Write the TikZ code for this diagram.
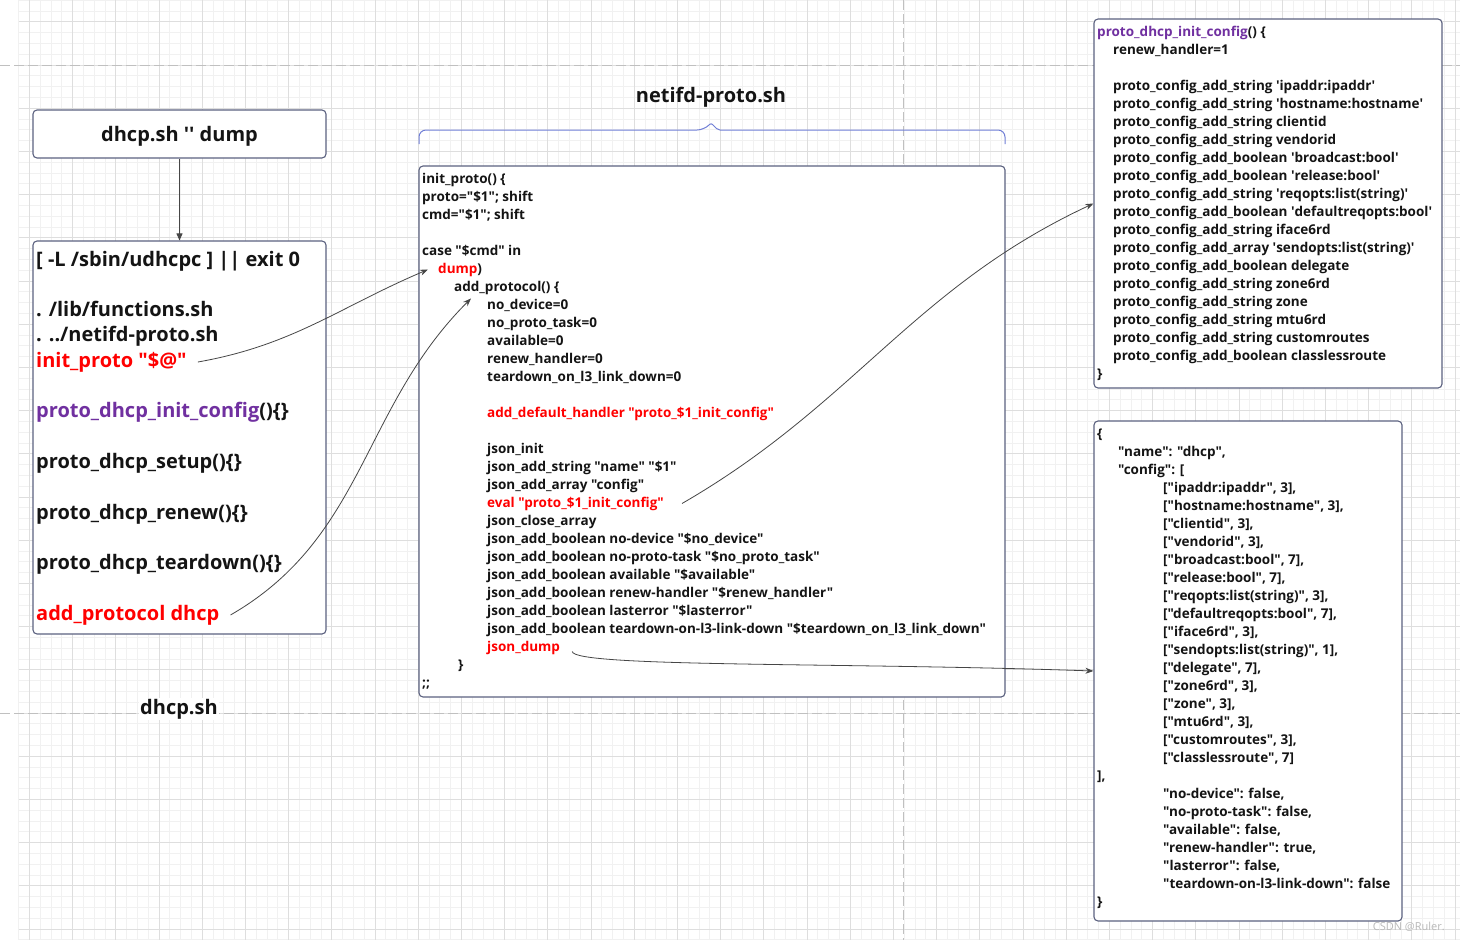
\documentclass[tikz,border=0pt]{standalone}
\usepackage{fontspec}
\setmainfont{Open Sans}[Ligatures={TeXOff,CommonOff}]
\usetikzlibrary{arrows.meta}
\definecolor{boxline}{RGB}{92,98,128}
\definecolor{bracecol}{RGB}{112,126,214}
\definecolor{linkgray}{RGB}{70,70,70}
\definecolor{ink}{RGB}{20,20,20}
\definecolor{codered}{RGB}{255,0,0}
\definecolor{codepurple}{RGB}{112,48,160}
\definecolor{gridminor}{RGB}{241,241,241}
\definecolor{gridmajor}{RGB}{222,222,222}
\definecolor{pagebreak}{RGB}{192,192,192}
\definecolor{wmgray}{RGB}{185,185,185}
\newcommand\apos{\textquotesingle}

\begin{document}
\begin{tikzpicture}[x=1pt, y=-1pt,
  box/.style={draw=boxline, line width=1.1pt, rounded corners=4pt, fill=white, inner sep=0pt},
  big/.style={font=\fontsize{20}{24}\selectfont\bfseries, text=ink, inner sep=0pt},
  code/.style={font=\fontsize{13.5}{18}\selectfont\bfseries, text=ink, inner sep=0pt, anchor=base west},
  link/.style={draw=linkgray, line width=0.8pt, -{Stealth[length=8pt,width=6pt]}},
  ]
  \useasboundingbox (0,0) rectangle (1460,940);
  % background grid and page breaks
  \fill[white] (0,0) rectangle (1460,940);
  \foreach \i in {0,...,133} \draw[gridminor, line width=0.7pt] (18.5+10.8*\i,0) -- (18.5+10.8*\i,940);
  \foreach \i in {0,...,87} \draw[gridminor, line width=0.7pt] (18.5,0.1+10.8*\i) -- (1460,0.1+10.8*\i);
  \foreach \i in {0,...,33} \draw[gridmajor, line width=0.8pt] (29.3+43.2*\i,0) -- (29.3+43.2*\i,940);
  \foreach \i in {0,...,21} \draw[gridmajor, line width=0.8pt] (18.5,21.7+43.2*\i) -- (1460,21.7+43.2*\i);
  \draw[pagebreak, line width=0.8pt, dash pattern=on 10pt off 4pt] (0,65.3) -- (1460,65.3) (0,713.3) -- (1460,713.3) (903.3,0) -- (903.3,940);

  % dhcp.sh
  \node[box, big, text depth=0pt, minimum width=293pt, minimum height=48pt] (cmdbox) at (179.5,134) {dhcp.sh \apos\apos{} dump};
  \node[box, minimum width=293pt, minimum height=393pt] (dhcpbox) at (179.5,437.5) {};
  \draw[link, -{Triangle[length=7pt,width=6pt]}] (cmdbox) -- (dhcpbox);
  \foreach \n/\txt in {1/{[ -L /sbin/udhcpc ] || exit 0},
      3/{. /lib/functions.sh},
      4/{. ../netifd-proto.sh},
      5/{\textcolor{codered}{init\_proto "\$@"}},
      7/{\textcolor{codepurple}{proto\_dhcp\_init\_config}()\{\}},
      9/{proto\_dhcp\_setup()\{\}},
      11/{proto\_dhcp\_renew()\{\}},
      13/{proto\_dhcp\_teardown()\{\}},
      15/{\textcolor{codered}{add\_protocol dhcp}}}
    \node[big, anchor=base west] (l\n) at (36,266+25.3*\n-25.3) {\txt};
  \node[big, fill=white, inner sep=1pt] (dhcpname) at (179,709) {dhcp.sh};

  % netifd-proto.sh
  \node[big] (protoname) at (711,97) {netifd-proto.sh};
  \draw[bracecol, line width=1pt] (419,144) [rounded corners=7pt] |- (704,130)
    [rounded corners=2pt] -- (711,123) -- (718,130) [rounded corners=7pt] -| (1005,144);
  \node[box, minimum width=586pt, minimum height=531pt] (protobox) at (712,431.5) {};
  \foreach \n/\x/\txt in {1/422/{init\_proto() \{},
      2/422/{proto="\$1"; shift},
      3/422/{cmd="\$1"; shift},
      5/422/{case "\$cmd" in},
      6/438/{\textcolor{codered}{dump})},
      7/454/{add\_protocol() \{},
      8/487/{no\_device=0},
      9/487/{no\_proto\_task=0},
      10/487/{available=0},
      11/487/{renew\_handler=0},
      12/487/{teardown\_on\_l3\_link\_down=0},
      14/487/{\textcolor{codered}{add\_default\_handler "proto\_\$1\_init\_config"}},
      16/487/{json\_init},
      17/487/{json\_add\_string "name" "\$1"},
      18/487/{json\_add\_array "config"},
      19/487/{\textcolor{codered}{eval "proto\_\$1\_init\_config"}},
      20/487/{json\_close\_array},
      21/487/{json\_add\_boolean no-device "\$no\_device"},
      22/487/{json\_add\_boolean no-proto-task "\$no\_proto\_task"},
      23/487/{json\_add\_boolean available "\$available"},
      24/487/{json\_add\_boolean renew-handler "\$renew\_handler"},
      25/487/{json\_add\_boolean lasterror "\$lasterror"},
      26/487/{json\_add\_boolean teardown-on-l3-link-down "\$teardown\_on\_l3\_link\_down"},
      27/487/{\textcolor{codered}{json\_dump}},
      28/458/{\}},
      29/422/{;;}}
    \node[code] (m\n) at (\x,183+18*\n-18) {\txt};

  % proto_dhcp_init_config
  \node[box, minimum width=348pt, minimum height=369pt] (cfgbox) at (1268,203.5) {};
  \foreach \n/\x/\txt in {1/1097/{\textcolor{codepurple}{proto\_dhcp\_init\_config}() \{},
      2/1113/{renew\_handler=1},
      4/1113/{proto\_config\_add\_string \apos ipaddr:ipaddr\apos},
      5/1113/{proto\_config\_add\_string \apos hostname:hostname\apos},
      6/1113/{proto\_config\_add\_string clientid},
      7/1113/{proto\_config\_add\_string vendorid},
      8/1113/{proto\_config\_add\_boolean \apos broadcast:bool\apos},
      9/1113/{proto\_config\_add\_boolean \apos release:bool\apos},
      10/1113/{proto\_config\_add\_string \apos reqopts:list(string)\apos},
      11/1113/{proto\_config\_add\_boolean \apos defaultreqopts:bool\apos},
      12/1113/{proto\_config\_add\_string iface6rd},
      13/1113/{proto\_config\_add\_array \apos sendopts:list(string)\apos},
      14/1113/{proto\_config\_add\_boolean delegate},
      15/1113/{proto\_config\_add\_string zone6rd},
      16/1113/{proto\_config\_add\_string zone},
      17/1113/{proto\_config\_add\_string mtu6rd},
      18/1113/{proto\_config\_add\_string customroutes},
      19/1113/{proto\_config\_add\_boolean classlessroute},
      20/1097/{\}}}
    \node[code] (c\n) at (\x,36+18*\n-18) {\txt};

  % json_dump output
  \node[box, minimum width=308pt, minimum height=500pt] (jsonbox) at (1248,671) {};
  \foreach \n/\x/\txt in {1/1097/{\{},
      2/1118/{"name": "dhcp",},
      3/1118/{"config": [},
      4/1163/{["ipaddr:ipaddr", 3],},
      5/1163/{["hostname:hostname", 3],},
      6/1163/{["clientid", 3],},
      7/1163/{["vendorid", 3],},
      8/1163/{["broadcast:bool", 7],},
      9/1163/{["release:bool", 7],},
      10/1163/{["reqopts:list(string)", 3],},
      11/1163/{["defaultreqopts:bool", 7],},
      12/1163/{["iface6rd", 3],},
      13/1163/{["sendopts:list(string)", 1],},
      14/1163/{["delegate", 7],},
      15/1163/{["zone6rd", 3],},
      16/1163/{["zone", 3],},
      17/1163/{["mtu6rd", 3],},
      18/1163/{["customroutes", 3],},
      19/1163/{["classlessroute", 7]},
      20/1097/{],},
      21/1163/{"no-device": false,},
      22/1163/{"no-proto-task": false,},
      23/1163/{"available": false,},
      24/1163/{"renew-handler": true,},
      25/1163/{"lasterror": false,},
      26/1163/{"teardown-on-l3-link-down": false},
      27/1097/{\}}}
    \node[code] (j\n) at (\x,438+18*\n-18) {\txt};

  % calls
  \draw[link] ([xshift=11pt]l5.east) to[out=10,in=203] ([xshift=-10pt]m6.west);
  \draw[link] ([xshift=11pt]l15.east) to[out=30,in=225] ([xshift=17pt,yshift=-4pt]m7.south west);
  \draw[link] ([xshift=18pt]m19.east) to[out=30,in=205] (cfgbox.west);
  \draw[link] ([xshift=12pt,yshift=-4pt]m27.east) to[out=-85,in=178,out distance=16pt,in distance=250pt] (jsonbox.west);

  \node[font=\fontsize{11}{13}\selectfont, text=wmgray, anchor=base east, inner sep=0pt] (mark) at (1445,930) {CSDN @Ruler.};
\end{tikzpicture}
\end{document}
